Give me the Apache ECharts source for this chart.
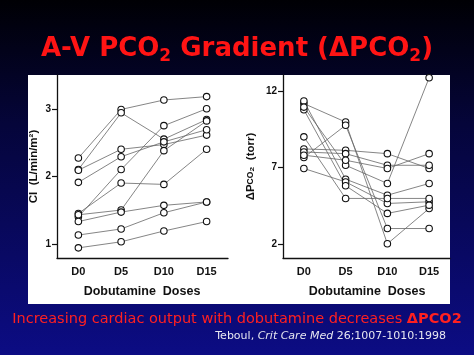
<!DOCTYPE html>
<html>
<head>
<meta charset="utf-8">
<script src="https://cdn.jsdelivr.net/npm/echarts@6/dist/echarts.min.js"></script>
<style>
  html, body { margin: 0; padding: 0; }
  #main { width: 474px; height: 355px; }
</style>
</head>
<body>
<div id="main"></div>
<script>
// doses on the x axis
const doses = ["D0", "D5", "D10", "D15"];

// cardiac index per patient, one row per patient (L/min/m2)
const ciValues = [
  [2.27, 2.99, 3.13, 3.18],
  [2.10, 2.94, 2.55, 2.84],
  [2.09, 2.40, 2.47, 2.61],
  [1.91, 2.29, 2.51, 2.69],
  [1.40, 2.10, 2.75, 3.00],
  [1.45, 1.90, 1.88, 2.40],
  [1.43, 1.50, 2.38, 2.82],
  [1.33, 1.47, 1.57, 1.62],
  [1.13, 1.22, 1.46, 1.62],
  [0.94, 1.03, 1.19, 1.33]
];

// delta PCO2 per patient (torr)
const pco2Values = [
  [11.18, 9.97, 2.00, 4.31],
  [7.65, 9.76, 3.00, 3.00],
  [11.35, 6.23, 5.18, 5.95],
  [6.93, 6.05, 4.64, 4.75],
  [10.78, 5.80, 3.99, 4.53],
  [10.95, 7.14, 5.95, 12.87],
  [9.00, 4.97, 4.97, 4.97],
  [8.21, 8.12, 7.90, 6.93],
  [8.01, 7.90, 7.14, 7.14],
  [7.80, 7.47, 6.93, 7.90]
];

const ciTicks = [1, 2, 3];
const pco2Ticks = [2, 7, 12];

const chart = echarts.init(document.getElementById("main"));

function patientSeries(rows, idx) {
  return rows.map(function (row) {
    return {
      type: "line",
      xAxisIndex: idx,
      yAxisIndex: idx,
      data: row,
      symbol: "circle",
      symbolSize: 6.5,
      lineStyle: { color: "#666", width: 0.8 },
      itemStyle: { color: "#fff", borderColor: "#111", borderWidth: 1.1 },
      emphasis: { disabled: true },
      silent: true,
      z: 3
    };
  });
}

function catAxis(idx) {
  return {
    type: "category",
    gridIndex: idx,
    data: doses,
    boundaryGap: true,
    axisLine: { lineStyle: { color: "#111", width: 1.3 } },
    axisTick: { alignWithLabel: true, length: 5, lineStyle: { color: "#111", width: 1.2 } },
    axisLabel: { color: "#111", fontWeight: "bold", fontSize: 11, margin: 8, fontFamily: "Liberation Sans" }
  };
}

function valAxis(idx, min, max, ticks, name) {
  return {
    type: "value",
    gridIndex: idx,
    min: min,
    max: max,
    name: name,
    nameLocation: "middle",
    nameGap: idx === 0 ? 17 : 26,
    nameRotate: 90,
    nameTextStyle: {
      color: "#111",
      fontWeight: "bold",
      fontSize: 11.5,
      fontFamily: "Liberation Sans",
      rich: {
        s: { fontSize: 8.5, fontWeight: "bold", color: "#111", fontFamily: "Liberation Sans" }
      }
    },
    splitLine: { show: false },
    axisLine: { show: true, lineStyle: { color: "#111", width: 1.3 } },
    axisTick: { show: true, length: 5, customValues: ticks, lineStyle: { color: "#111", width: 1.2 } },
    axisLabel: { customValues: ticks, color: "#111", fontWeight: "bold", fontSize: 10, margin: 6, fontFamily: "Liberation Sans" }
  };
}

chart.setOption({
  backgroundColor: new echarts.graphic.LinearGradient(0, 0, 0, 1, [
    { offset: 0, color: "#000004" },
    { offset: 0.35, color: "#05053a" },
    { offset: 1, color: "#0c0c84" }
  ]),
  animation: false,
  title: [
    {
      text: "{t|A-V PCO}{s|2}{t| Gradient (ΔPCO}{s|2}{t|)}",
      left: "center",
      top: 29,
      textStyle: {
        rich: {
          t: { color: "#ff1414", fontSize: 26, fontWeight: "bold", fontFamily: "DejaVu Sans", height: 30, verticalAlign: "top" },
          s: { color: "#ff1414", fontSize: 17, fontWeight: "bold", fontFamily: "DejaVu Sans", padding: [14, 0, 0, 0], verticalAlign: "top" }
        }
      }
    },
    {
      text: "{n|Increasing cardiac output with dobutamine decreases }{b|ΔPCO2}",
      left: "center",
      top: 307,
      textStyle: {
        rich: {
          n: { color: "#ff2020", fontSize: 14.5, fontWeight: "normal", fontFamily: "DejaVu Sans" },
          b: { color: "#ff2020", fontSize: 14.5, fontWeight: "bold", fontFamily: "DejaVu Sans" }
        }
      }
    },
    {
      text: "{n|Teboul, }{i|Crit Care Med}{n| 26;1007-1010:1998}",
      right: 23,
      top: 326,
      textStyle: {
        rich: {
          n: { color: "#e6e6f0", fontSize: 11, fontWeight: "normal", fontFamily: "DejaVu Sans" },
          i: { color: "#e6e6f0", fontSize: 11, fontWeight: "normal", fontStyle: "italic", fontFamily: "DejaVu Sans" }
        }
      }
    }
  ],
  graphic: [
    {
      type: "rect",
      shape: { x: 28, y: 75, width: 422, height: 229 },
      style: { fill: "#ffffff" },
      z: -1,
      silent: true
    },
    {
      type: "text",
      x: 142,
      y: 292,
      style: { text: "Dobutamine  Doses", fill: "#111", font: "bold 12.5px 'Liberation Sans'", align: "center", verticalAlign: "middle" },
      silent: true
    },
    {
      type: "text",
      x: 367,
      y: 292,
      style: { text: "Dobutamine  Doses", fill: "#111", font: "bold 12.5px 'Liberation Sans'", align: "center", verticalAlign: "middle" },
      silent: true
    }
  ],
  grid: [
    { left: 57, right: 246, top: 75, bottom: 97 },
    { left: 283, right: 24, top: 75, bottom: 97 }
  ],
  xAxis: [catAxis(0), catAxis(1)],
  yAxis: [
    valAxis(0, 0.79, 3.5, ciTicks, "CI  (L/min/m²)"),
    valAxis(1, 1.07, 13.05, pco2Ticks, "ΔP{s|CO}₂  (torr)")
  ],
  series: patientSeries(ciValues, 0).concat(patientSeries(pco2Values, 1))
});
</script>
</body>
</html>
